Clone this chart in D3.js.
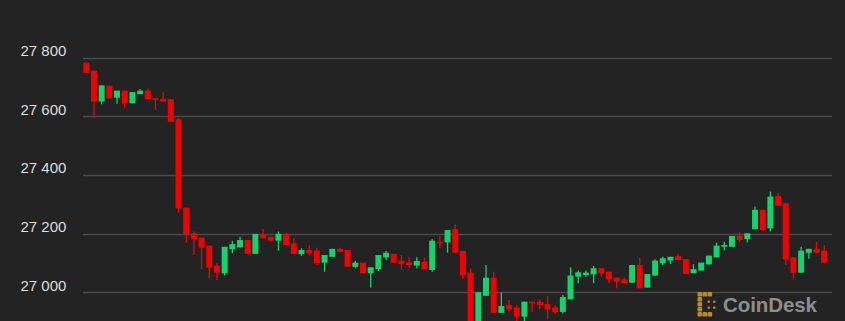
<!DOCTYPE html>
<html>
<head>
<meta charset="utf-8">
<script src="https://cdn.jsdelivr.net/npm/d3@7"></script>
<style>
  html, body { margin: 0; padding: 0; background: #232323; }
  svg { display: block; }
</style>
</head>
<body>
<div class="canvas"></div>
<script>
// candle values, one entry per bar
const opens  = [27782,27755,27650,27704,27663,27687,27644,27675,27687,27661,27659,27658,27590,27288,27201,27186,27159,27091,27065,27147,
                27153,27178,27131,27198,27189,27176,27199,27167,27130,27144,27142,27101,27121,27148,27144,27087,27101,27065,27079,27119,
                27131,27108,27102,27091,27104,27076,27172,27170,27215,27141,27067,26880,26988,27050,26930,26957,26948,26917,26968,26968,
                26960,26948,26933,26976,27053,27059,27061,27082,27070,27050,27044,27033,27093,27016,27057,27099,27108,27124,27113,27065,
                27074,27095,27119,27155,27155,27193,27181,27215,27281,27218,27328,27303,27119,27067,27135,27148,27142];
const highs  = [27782,27755,27705,27704,27687,27687,27682,27693,27693,27661,27682,27658,27595,27288,27207,27186,27159,27099,27155,27176,
                27189,27178,27199,27216,27189,27207,27203,27184,27150,27161,27152,27127,27148,27152,27144,27107,27101,27085,27127,27141,
                27131,27127,27119,27119,27118,27182,27192,27212,27232,27141,27082,27000,27093,27070,26999,26974,26957,26968,26968,26976,
                26987,26957,26991,27085,27074,27074,27090,27082,27070,27050,27051,27093,27118,27062,27113,27121,27121,27130,27113,27096,
                27101,27125,27169,27172,27192,27204,27201,27292,27281,27343,27339,27303,27119,27155,27148,27172,27161];
const lows   = [27748,27595,27641,27661,27642,27627,27644,27675,27658,27621,27650,27581,27271,27169,27127,27078,27048,27042,27057,27133,
                27153,27131,27131,27184,27176,27142,27161,27131,27124,27125,27093,27070,27121,27138,27087,27082,27065,27016,27073,27110,
                27101,27076,27082,27082,27078,27070,27150,27135,27135,27045,26860,26860,26988,26930,26930,26934,26900,26900,26934,26942,
                26908,26925,26928,26976,27031,27053,27031,27053,27031,27014,27031,27031,27014,27016,27057,27093,27096,27110,27062,27065,
                27074,27095,27119,27142,27155,27172,27170,27215,27209,27207,27295,27093,27044,27067,27114,27135,27101];
const closes = [27748,27650,27705,27661,27687,27644,27682,27687,27658,27655,27650,27581,27286,27198,27181,27152,27084,27067,27155,27164,
                27178,27131,27199,27184,27176,27199,27161,27131,27144,27133,27099,27127,27148,27138,27087,27101,27065,27085,27127,27135,
                27101,27096,27093,27107,27078,27176,27167,27212,27135,27059,26870,27000,27050,26930,26953,26942,26917,26968,26963,26956,
                26942,26932,26984,27057,27068,27067,27082,27065,27044,27036,27031,27093,27014,27062,27108,27116,27121,27110,27062,27079,
                27101,27125,27159,27161,27192,27178,27201,27281,27212,27326,27295,27112,27067,27142,27148,27135,27101];

const yTicks = [27000, 27200, 27400, 27600, 27800];
const yTickLabels = ["27 000", "27 200", "27 400", "27 600", "27 800"];

const width = 845, height = 321;
const bg = "#232323";
const up = "#12d36c";
const down = "#f50000";

const svg = d3.select(".canvas").append("svg")
  .attr("width", width)
  .attr("height", height);

svg.append("rect").attr("width", width).attr("height", height).attr("fill", bg);

let candles = opens.map((o, i) => ({
  idx: i, open: o, high: highs[i], low: lows[i], close: closes[i]
}));

let xScale = d3.scalePoint()
  .domain(candles.map(d => d.idx))
  .range([86.3, 824.2]);

let yScale = d3.scaleLinear()
  .domain([27000, 27800])
  .range([292.3, 57.5]);

let bodyW = xScale.step() * 0.78;

// grid
svg.append("g")
  .selectAll("line")
  .data(yTicks)
  .join("line")
  .attr("x1", 83)
  .attr("x2", 832)
  .attr("y1", d => Math.round(yScale(d)) + 0.5)
  .attr("y2", d => Math.round(yScale(d)) + 0.5)
  .attr("stroke", "#4a4a4a")
  .attr("stroke-width", 1.3);

// labels sit just above their line
svg.append("g")
  .selectAll("text")
  .data(yTicks)
  .join("text")
  .attr("x", 20.5)
  .attr("y", d => yScale(d) - 1.5)
  .text((d, i) => yTickLabels[i])
  .style("font-family", "'Liberation Sans', Arial, sans-serif")
  .style("font-size", "15px")
  .attr("fill", "#dedede");

// logo
let logo = svg.append("g").attr("class", "logo");
const gold = "#b98a2c";
let dots = [[0,0],[1,0],[2,0],[0,1],[0,2],[0,3],[0,4],[1,4],[2,4],[2,1.7],[2,2.9],[3.1,1.7],[3.1,2.9]];
logo.selectAll("rect")
  .data(dots)
  .join("rect")
  .attr("x", d => 697.5 + d[0] * 5)
  .attr("y", d => 292 + d[1] * 5)
  .attr("width", d => (d[0] >= 2 && d[1] > 0 && d[1] < 4) ? 2.5 : 4.6)
  .attr("height", d => (d[0] >= 2 && d[1] > 0 && d[1] < 4) ? 2.5 : 4.6)
  .attr("rx", 1.2)
  .attr("fill", gold);
logo.append("text")
  .attr("x", 723)
  .attr("y", 311.5)
  .text("CoinDesk")
  .style("font-family", "'Liberation Sans', Arial, sans-serif")
  .style("font-weight", 700)
  .style("font-size", "20.5px")
  .attr("textLength", 94)
  .attr("fill", "#8e8e8e");

// candles
let g = svg.append("g");
g.selectAll("line")
  .data(candles)
  .join("line")
  .attr("x1", d => xScale(d.idx))
  .attr("x2", d => xScale(d.idx))
  .attr("y1", d => yScale(d.high))
  .attr("y2", d => yScale(d.low))
  .attr("stroke", d => d.close >= d.open ? up : down)
  .attr("stroke-width", 1.3);

g.selectAll("rect")
  .data(candles)
  .join("rect")
  .attr("x", d => xScale(d.idx) - bodyW / 2)
  .attr("width", bodyW)
  .attr("y", d => yScale(Math.max(d.open, d.close)))
  .attr("height", d => Math.max(1.6, Math.abs(yScale(d.open) - yScale(d.close))))
  .attr("fill", d => d.close >= d.open ? up : down);
</script>
</body>
</html>
